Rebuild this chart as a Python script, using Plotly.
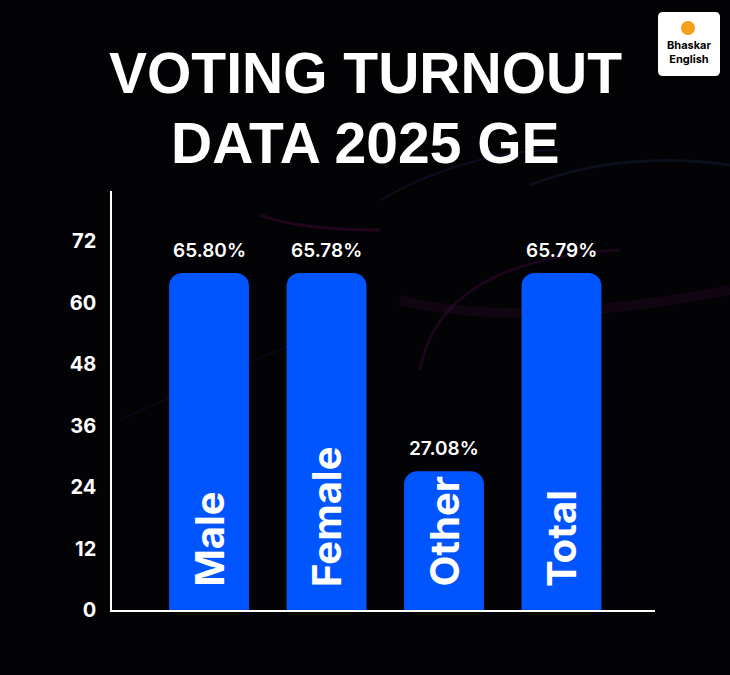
import plotly.graph_objects as go

categories = ["Male", "Female", "Other", "Total"]
turnout = [65.80, 65.78, 27.08, 65.79]
value_labels = ["65.80%", "65.78%", "27.08%", "65.79%"]
tick_values = [0, 12, 24, 36, 48, 60, 72]
tick_labels = ["0", "12", "24", "36", "48", "60", "72"]
title_lines = ["VOTING TURNOUT", "DATA 2025 GE"]

W, H = 730, 675
L, R, T, B = 112, 75, 191, 65
PW, PH = W - L - R, H - T - B


def px(x):
    return (x - L) / PW


def py(y):
    return (H - B - y) / PH


BLUE = "#0055FF"
FONT = "Inter"

fig = go.Figure()
fig.add_trace(go.Bar(
    x=categories, y=turnout, width=0.68,
    marker=dict(color=BLUE, cornerradius=13, line=dict(width=0)),
    hoverinfo="skip",
))

annotations = []
for c, v, lab in zip(categories, turnout, value_labels):
    annotations.append(dict(
        x=c, y=v, xref="x", yref="y", text=lab, showarrow=False,
        yanchor="bottom", yshift=9,
        font=dict(family=FONT, size=19, color="white", weight=600),
    ))
    annotations.append(dict(
        x=c, y=0, xref="x", yref="y", text=c, showarrow=False,
        textangle=-90, yanchor="bottom", yshift=21,
        font=dict(family=FONT, size=40, color="white", weight=700),
    ))

# title (two lines)
for line, ytop in zip(title_lines, [39, 109]):
    annotations.append(dict(
        x=px(365), y=py(ytop), xref="paper", yref="paper",
        text=line, showarrow=False,
        xanchor="center", yanchor="top", align="center",
        font=dict(family="Liberation Sans", size=57, color="white", weight=700),
    ))

# logo text
annotations.append(dict(
    x=px(689), y=py(52), xref="paper", yref="paper",
    text="<b>Bhaskar<br>English</b>", showarrow=False,
    font=dict(family=FONT, size=11, color="black"),
    align="center", xanchor="center", yanchor="middle",
))

shapes = []
# faint background streaks
streaks = [
    ("M 380 200 Q 470 150 560 150", "rgba(40,50,120,0.25)", 2),
    ("M 530 185 Q 620 150 730 165", "rgba(40,60,110,0.22)", 3),
    ("M 420 370 Q 440 260 620 250", "rgba(90,20,90,0.25)", 3),
    ("M 400 300 Q 520 330 730 290", "rgba(70,20,70,0.22)", 10),
    ("M 260 215 Q 300 230 380 230", "rgba(120,20,90,0.25)", 3),
    ("M 120 420 Q 250 360 330 330", "rgba(30,40,90,0.2)", 2),
]
for d, col, w in streaks:
    pts = d.split()
    conv = []
    i = 0
    while i < len(pts):
        if pts[i] in ("M", "Q", "L"):
            conv.append(pts[i])
            i += 1
        else:
            conv.append(f"{px(float(pts[i])):.4f},{py(float(pts[i+1])):.4f}")
            i += 2
    shapes.append(dict(type="path", path=" ".join(conv), xref="paper", yref="paper",
                       line=dict(color=col, width=w), layer="below"))

# logo box (rounded)
x0, x1, y0, y1, r = 658, 720, 12, 76, 5
path = (f"M {px(x0+r)},{py(y0)} L {px(x1-r)},{py(y0)} Q {px(x1)},{py(y0)} {px(x1)},{py(y0+r)} "
        f"L {px(x1)},{py(y1-r)} Q {px(x1)},{py(y1)} {px(x1-r)},{py(y1)} "
        f"L {px(x0+r)},{py(y1)} Q {px(x0)},{py(y1)} {px(x0)},{py(y1-r)} "
        f"L {px(x0)},{py(y0+r)} Q {px(x0)},{py(y0)} {px(x0+r)},{py(y0)} Z")
shapes.append(dict(type="path", path=path, xref="paper", yref="paper",
                   fillcolor="white", line=dict(width=0)))
shapes.append(dict(type="circle", xref="paper", yref="paper",
                   x0=px(681), x1=px(695), y0=py(35), y1=py(21),
                   fillcolor="#F5A01A", line=dict(width=0)))

fig.update_layout(
    width=W, height=H,
    margin=dict(l=L, r=R, t=T, b=B),
    paper_bgcolor="#030205", plot_bgcolor="rgba(0,0,0,0)",
    showlegend=False,
    xaxis=dict(
        range=[-0.826, 3.796], showticklabels=False, ticks="",
        showgrid=False, zeroline=False, showline=True,
        linecolor="white", linewidth=1.5,
    ),
    yaxis=dict(
        range=[0, 81.8], tickvals=tick_values, ticktext=tick_labels,
        showgrid=False, zeroline=False, showline=True,
        linecolor="white", linewidth=1.5, ticks="",
        ticklabelstandoff=10,
        tickfont=dict(family=FONT, size=20, color="white", weight=700),
    ),
    annotations=annotations,
    shapes=shapes,
)

fig.write_html("out.html")
